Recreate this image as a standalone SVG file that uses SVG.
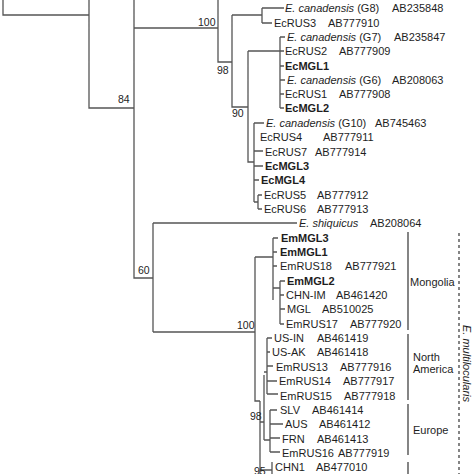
<svg xmlns="http://www.w3.org/2000/svg" width="474" height="474" viewBox="0 0 474 474">
<style>
text{font-family:"Liberation Sans",Arial,sans-serif;font-size:11px;fill:#1e1e1e}
.b{font-weight:bold}
.i{font-style:italic}
.s{font-size:10.5px}
.t{fill:none;stroke:#555;stroke-width:1.3}
.bar{fill:none;stroke:#444;stroke-width:1.3}
</style>
<rect width="474" height="474" fill="#fff"/>
<g id="connectors" class="t">
<path d="M3,0V15H89M89,0V108H134M134,0V278H153M134,28H218M218,0V62H232M232,15V107H248M232,15H262M262,8V23M262,8H284M262,23H272"/>
<path d="M248,51V162H254M248,51H280M280,37V108M280,37H285M280,51H284M280,66H284M280,80H285M280,94H284M280,108H284"/>
<path d="M254,123V202M254,123H264M254,151H263M254,166H263M254,180H259M254,202H258M258,195V209M258,195H262M258,209H262"/>
<path d="M153,223V332M153,223H297M153,332H255M255,257V401H260"/>
<path d="M255,257H273M273,238V300M273,238H278M273,252H277M273,266H277M273,288H280M280,281V324M280,281H285M280,295H284M280,309H285M280,324H284"/>
<path d="M260,401V474M260,422H264M264,375V440M264,372H267M267,338V394M267,338H272M267,352H270M267,366H273M267,381H277M267,394H278M264,440H270M270,410V452M270,410H277M270,424H283M270,438H280M270,452H280M260,470H272M272,462V474"/>
</g>
<g id="bars" class="bar">
<path d="M408,232V330M408,334V400M408,404V455M408,462V474"/>
<path d="M459,233V474" stroke-dasharray="3,3"/>
</g>
<g id="support">
<text class="s" x="198" y="26">100</text>
<text class="s" x="217" y="74">98</text>
<text class="s" x="118" y="103">84</text>
<text class="s" x="232" y="117">90</text>
<text class="s" x="138" y="274">60</text>
<text class="s" x="237" y="329">100</text>
<text class="s" x="250" y="420">98</text>
<text class="s" x="254" y="475">95</text>
</g>
<g id="n1"><text x="285" y="12"><tspan class="i">E. canadensis</tspan> (G8)<tspan x="392">AB235848</tspan></text></g>
<g id="n2"><text x="274" y="27">EcRUS3<tspan x="328">AB777910</tspan></text></g>
<g id="n3"><text x="287" y="41"><tspan class="i">E. canadensis</tspan> (G7)<tspan x="394">AB235847</tspan></text></g>
<g id="n4"><text x="285" y="55">EcRUS2<tspan x="339">AB777909</tspan></text></g>
<g id="n5"><text class="b" x="285" y="70">EcMGL1</text></g>
<g id="n6"><text x="287" y="84"><tspan class="i">E. canadensis</tspan> (G6)<tspan x="392">AB208063</tspan></text></g>
<g id="n7"><text x="285" y="98">EcRUS1<tspan x="339">AB777908</tspan></text></g>
<g id="n8"><text class="b" x="285" y="112">EcMGL2</text></g>
<g id="n9"><text x="266" y="127"><tspan class="i">E. canadensis</tspan> (G10)<tspan x="375">AB745463</tspan></text></g>
<g id="n10"><text x="260" y="141">EcRUS4<tspan x="323">AB777911</tspan></text></g>
<g id="n11"><text x="265" y="156">EcRUS7<tspan x="315">AB777914</tspan></text></g>
<g id="n12"><text class="b" x="265" y="170">EcMGL3</text></g>
<g id="n13"><text class="b" x="261" y="184">EcMGL4</text></g>
<g id="n14"><text x="264" y="199">EcRUS5<tspan x="317">AB777912</tspan></text></g>
<g id="n15"><text x="264" y="213">EcRUS6<tspan x="317">AB777913</tspan></text></g>
<g id="n16"><text x="299" y="227"><tspan class="i">E. shiquicus</tspan><tspan x="370">AB208064</tspan></text></g>
<g id="n17"><text class="b" x="281" y="242">EmMGL3</text></g>
<g id="n18"><text class="b" x="280" y="256">EmMGL1</text></g>
<g id="n19"><text x="280" y="270">EmRUS18<tspan x="345">AB777921</tspan></text></g>
<g id="n20"><text class="b" x="287" y="285">EmMGL2</text></g>
<g id="n21"><text x="286" y="299">CHN-IM<tspan x="336">AB461420</tspan></text></g>
<g id="n22"><text x="287" y="313">MGL<tspan x="322">AB510025</tspan></text></g>
<g id="n23"><text x="286" y="328">EmRUS17<tspan x="350">AB777920</tspan></text></g>
<g id="n24"><text x="274" y="342">US-IN<tspan x="317">AB461419</tspan></text></g>
<g id="n25"><text x="272" y="356">US-AK<tspan x="317">AB461418</tspan></text></g>
<g id="n26"><text x="276" y="371">EmRUS13<tspan x="340">AB777916</tspan></text></g>
<g id="n27"><text x="279" y="385">EmRUS14<tspan x="343">AB777917</tspan></text></g>
<g id="n28"><text x="280" y="400">EmRUS15<tspan x="344">AB777918</tspan></text></g>
<g id="n29"><text x="280" y="414">SLV<tspan x="312">AB461414</tspan></text></g>
<g id="n30"><text x="285" y="428">AUS<tspan x="319">AB461412</tspan></text></g>
<g id="n31"><text x="282" y="443">FRN<tspan x="317">AB461413</tspan></text></g>
<g id="n32"><text x="282" y="457">EmRUS16<tspan x="338">AB777919</tspan></text></g>
<g id="n33"><text x="275" y="471">CHN1<tspan x="316">AB477010</tspan></text></g>
<g id="regions">
<text x="410" y="286">Mongolia</text>
<text x="413" y="361">North</text>
<text x="413" y="373">America</text>
<text x="413" y="434">Europe</text>
<text class="i" transform="translate(463,325) rotate(90)">E. multilocularis</text>
</g>
</svg>
